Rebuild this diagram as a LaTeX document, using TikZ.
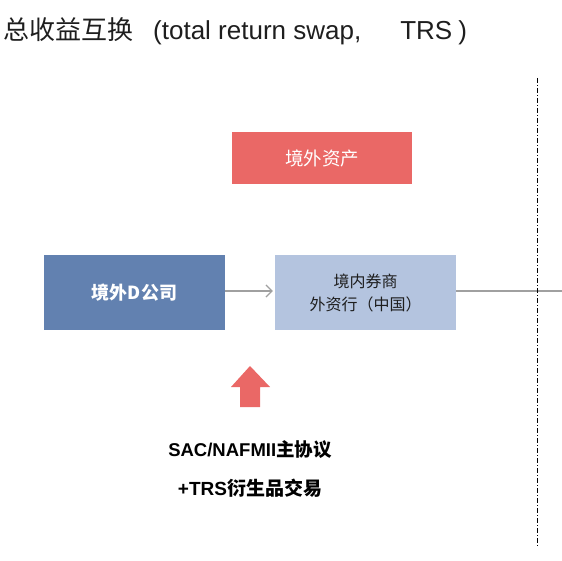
\documentclass[tikz,border=0pt]{standalone}
\usepackage{fontspec}
\setmainfont{Liberation Sans}
\newfontfamily\cjk{Noto Sans CJK SC}
\usetikzlibrary{arrows.meta}
\definecolor{redbox}{RGB}{234,104,102}
\definecolor{darkblue}{RGB}{98,129,176}
\definecolor{lightblue}{RGB}{180,196,223}
\definecolor{linegray}{RGB}{160,160,160}
\definecolor{textdark}{RGB}{30,30,30}
\begin{document}
\begin{tikzpicture}[x=1bp,y=-1bp,
  boxstyle/.style={draw=none,minimum width=181bp,minimum height=75bp,inner sep=0pt,align=center},
  conn/.style={draw=linegray,line width=1.2bp}]
\useasboundingbox (0,0) rectangle (562,561);
\node[anchor=west,inner sep=0pt,text=textdark,font=\fontsize{26bp}{30bp}\selectfont] (title) at (3,31)
  {{\cjk 总收益互换}\hspace{20bp}(total return swap,\hspace{39bp}TRS\hspace{6bp})};
\node[boxstyle,fill=redbox,minimum width=180bp,minimum height=52bp,text=white,font=\cjk\fontsize{18.5bp}{22bp}\selectfont] (asset) at (322,158) {境外资产};
\node[boxstyle,fill=darkblue,text=white,font=\cjk\bfseries\fontsize{18bp}{22bp}\selectfont] (dco) at (134.5,292.5) {境外D公司};
\node[boxstyle,fill=lightblue,text=textdark,font=\cjk\fontsize{16bp}{23bp}\selectfont] (broker) at (365.5,292.5) {境内券商\\外资行（中国）};
\coordinate (edge) at (562,291);
\draw[conn,-{Straight Barb[length=6bp,width=12bp]},shorten >=2bp] (dco.east |- edge) -- (broker.west |- edge);
\draw[conn] (broker.east |- edge) -- (edge);
\coordinate (dtop) at (537,78);
\coordinate (dbot) at (537,547);
\draw[black,line width=1bp,dash pattern=on 5bp off 2bp on 1bp off 2bp] (dtop) -- (dbot);
\fill[redbox] (250,366) -- (270,387) -- (260,387) -- (260,407) -- (240,407) -- (240,387) -- (231,387) -- cycle;
\node[inner sep=0pt,text=black,font=\bfseries\fontsize{18.5bp}{22bp}\selectfont] (l1) at (250,450) {SAC/NAFMII{\cjk 主协议}};
\node[inner sep=0pt,text=black,font=\bfseries\fontsize{19bp}{22bp}\selectfont] (l2) at (250,488) {+TRS{\cjk 衍生品交易}};
\end{tikzpicture}
\end{document}
